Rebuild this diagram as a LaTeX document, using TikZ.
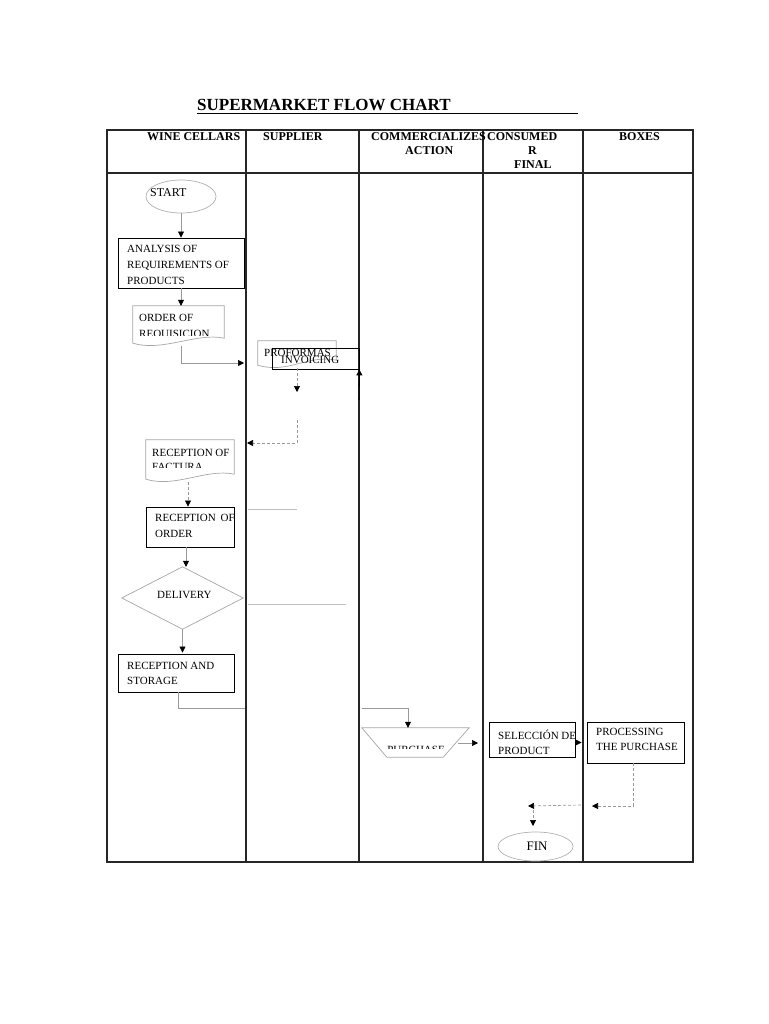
\documentclass[tikz,border=0pt]{standalone}
\usepackage{fontspec}
\setmainfont{Liberation Serif}
\usetikzlibrary{arrows.meta,shapes.geometric,calc}
\tikzset{
  tbl/.style={draw=black!85, line width=1.1pt},
  bbox/.style={draw=black, line width=0.9pt, rectangle, inner sep=0pt},
  area/.style={rectangle, inner sep=0pt},
  gline/.style={draw=black!35, line width=0.7pt},
  conn/.style={draw=black!40, line width=0.7pt},
  dconn/.style={conn, dash pattern=on 3pt off 2pt},
  tip/.style={-{Triangle[length=6pt,width=6pt,color=black,fill=black]}},
  lbl/.style={font=\fontsize{11}{16}\selectfont, inner sep=0pt, anchor=west},
  hdr/.style={font=\fontsize{12}{14}\selectfont\bfseries, inner sep=0pt, anchor=base west},
}
\newcommand\mydocshape[1]{%
  \draw[gline] (#1.north west) -- (#1.north east) -- ([yshift=8pt]#1.south east)
    .. controls ([xshift=-28pt,yshift=14pt]#1.south east) and ([xshift=30pt,yshift=-6pt]#1.south west)
    .. ([yshift=3pt]#1.south west) -- cycle;}
\begin{document}
\begin{tikzpicture}[x=1pt,y=-1pt]
\useasboundingbox (0,0) rectangle (768,1024);
\fill[white] (0,0) rectangle (768,1024);

% title
\node[anchor=base west, inner sep=0pt, font=\fontsize{17}{20}\selectfont\bfseries] (title) at (197,111) {SUPERMARKET FLOW CHART};
\draw[line width=0.9pt] (197,113.5) -- (578,113.5);

% table
\draw[tbl] (107,130) rectangle (693,862);
\draw[tbl] (107,173) -- (693,173);
\foreach \xx in {246,359,483,583} \draw[tbl] (\xx,130) -- (\xx,862);

% headers
\node[hdr] (h1) at (147,141) {WINE CELLARS};
\node[hdr] (h2) at (263,141) {SUPPLIER};
\node[hdr] (h3) at (371,141) {COMMERCIALIZES};
\node[hdr] (h3b) at (405,155) {ACTION};
\node[hdr] (h4) at (487,141) {CONSUMED};
\node[hdr] (h4b) at (528,155) {R};
\node[hdr] (h4c) at (514,169) {FINAL};
\node[hdr] (h5) at (619,141) {BOXES};

% START
\node[ellipse, draw=black!30, line width=0.7pt, minimum width=70pt, minimum height=33pt, inner sep=0pt] (start) at (181,196.5) {};
\node[lbl, font=\fontsize{12}{14}\selectfont] (startt) at (150,193) {START};

% analysis
\node[bbox, minimum width=126pt, minimum height=50pt] (ana) at (181,263) {};
\node[lbl, anchor=north west, align=left] (anat) at (127,245.4) {ANALYSIS OF\\REQUIREMENTS OF\\PRODUCTS};
\draw[conn,tip] (start.south) -- (ana.north);

% order of requisicion
\node[area, minimum width=91pt, minimum height=40pt] (ord) at (178.5,326) {};
\mydocshape{ord}
\node[lbl] (ordt) at (139,318) {ORDER OF};
\begin{scope}
  \clip (134,322) rectangle (224,335);
  \node[lbl, anchor=base west] (ordt2) at (139,337.8) {REQUISICION};
\end{scope}
\draw[conn,tip] (ana.south) -- (ana.south |- ord.north);

% proformas / invoicing
\node[area, minimum width=78pt, minimum height=27pt] (prof) at (297,354.5) {};
\mydocshape{prof}
\node[lbl] (proft) at (264,353) {PROFORMAS};
\node[bbox, minimum width=87pt, minimum height=21pt] (inv) at (315.5,358.5) {};
\node[lbl] (invt) at (281,360) {INVOICING};

\coordinate (c1) at (244,363);
\draw[conn,tip] ([xshift=2.5pt]ord.south) |- (c1);

\coordinate (c2) at (359,400);
\draw[draw=black, line width=1.1pt, tip] (c2) -- (inv.south east);

\coordinate (c3) at (297,392);
\draw[dconn,tip] (prof.south) -- (c3);
\coordinate (c4) at (297,420);
\coordinate (c5) at (247,443);
\draw[dconn,tip] (c4) |- (c5);

% reception of factura
\node[area, minimum width=88pt, minimum height=42pt] (fac) at (190,461) {};
\mydocshape{fac}
\node[lbl] (fact) at (152,453) {RECEPTION OF};
\begin{scope}
  \clip (147,460) rectangle (234,467.5);
  \node[lbl, anchor=base west] (fact2) at (152,470.5) {FACTURA};
\end{scope}

% reception of order
\node[bbox, minimum width=88pt, minimum height=40pt] (rord) at (190,527) {};
\begin{scope}
  \clip (146,507) rectangle (234,547);
  \node[lbl] (rordt) at (155,518) {RECEPTION\hspace{5pt}OF};
\end{scope}
\node[lbl] (rordt2) at (155,534) {ORDER};
\draw[dconn,tip] ([xshift=-2pt]fac.south) -- ([xshift=-2pt]fac.south |- rord.north);

\coordinate (c8) at (248,509);
\coordinate (c9) at (297,509);
\draw[conn, draw=black!25] (c8) -- (c9);

% delivery
\node[area, minimum width=121pt, minimum height=62pt] (del) at (182.5,598) {};
\draw[gline] (del.north) -- (del.east) -- (del.south) -- (del.west) -- cycle;
\node[lbl] (delt) at (157,595) {DELIVERY};
\draw[conn,tip] ([xshift=-4pt]rord.south) -- ([xshift=-4pt]rord.south |- del.north);

\coordinate (c6) at (248,604);
\coordinate (c7) at (346,604);
\draw[conn, draw=black!25] (c6) -- (c7);

% reception and storage
\node[bbox, minimum width=116pt, minimum height=38pt] (sto) at (176,673) {};
\node[lbl, anchor=north west, align=left, font=\fontsize{11}{15}\selectfont] (stot) at (127,662.4) {RECEPTION AND\\STORAGE};
\draw[conn,tip] (del.south) -- ([yshift=1pt]del.south |- sto.north);

\coordinate (c10) at (245,708);
\draw[conn] ([xshift=2pt]sto.south) |- (c10);

% purchase
\node[area, minimum width=107pt, minimum height=29pt] (pur) at (415.5,742.5) {};
\draw[gline] (pur.north west) -- (pur.north east) -- ([xshift=-26pt]pur.south east) -- ([xshift=25pt]pur.south west) -- cycle;
\begin{scope}
  \clip (380,740) rectangle (455,748);
  \node[lbl, anchor=base] (purt) at (416,753.5) {PURCHASE};
\end{scope}
\coordinate (c11) at (362,708);
\draw[conn,tip] (c11) -| ([xshift=-7.5pt]pur.north);

\coordinate (c13) at (478,743);
\draw[conn,tip] ([xshift=-11pt,yshift=-0.5pt]pur.east) -- (c13);

% seleccion
\node[bbox, minimum width=86pt, minimum height=35pt] (sel) at (532,739.5) {};
\node[lbl, anchor=north west, align=left, font=\fontsize{11}{15}\selectfont] (selt) at (498,729.4) {SELECCIÓN DE\\PRODUCT};

% processing
\node[bbox, minimum width=97pt, minimum height=41pt] (proc) at (635.5,742.5) {};
\node[lbl, anchor=north west, align=left, font=\fontsize{11}{15}\selectfont] (proct) at (596,728.4) {PROCESSING\\THE PURCHASE};
\draw[draw=black, line width=0.8pt, -{Triangle[length=6pt,width=6pt,color=black,fill=black]}] (sel.east |- proc.west) -- ([xshift=-5pt]proc.west);

% bottom flow
\coordinate (c14) at (592,806);
\draw[dconn,tip] ([xshift=-2.5pt]proc.south) |- (c14);
\coordinate (c15) at (581,805);
\coordinate (c16) at (528,806);
\draw[dconn,tip] (c15) -- (c16);
\coordinate (c17) at (533,810);
\coordinate (c18) at (533,826);
\draw[dconn,tip] (c17) -- (c18);

% FIN
\node[ellipse, draw=black!30, line width=0.7pt, minimum width=75pt, minimum height=29pt, inner sep=0pt] (fin) at (535.5,846.5) {};
\node[inner sep=0pt, font=\fontsize{13}{15}\selectfont] (fint) at (537,846) {FIN};

\end{tikzpicture}
\end{document}
